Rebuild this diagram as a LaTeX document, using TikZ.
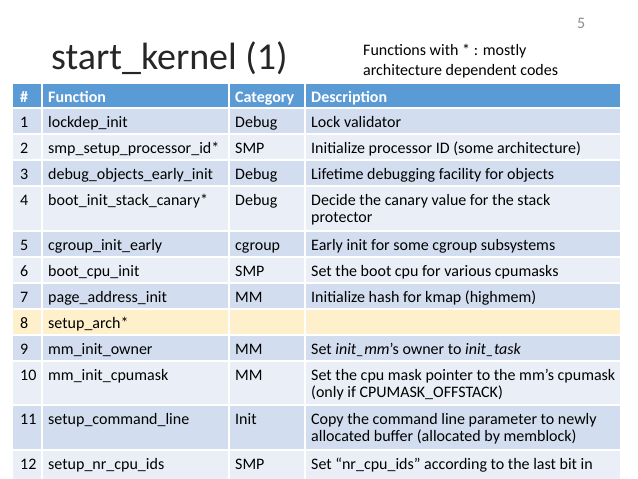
\documentclass[tikz,border=0pt]{standalone}
\usepackage{fontspec}
\setmainfont{Carlito}
\definecolor{headblue}{HTML}{5B9BD5}
\definecolor{banddark}{HTML}{D2DEEF}
\definecolor{bandlight}{HTML}{EAEFF7}
\definecolor{bandmark}{HTML}{FFF0CC}
\definecolor{pagegray}{HTML}{8C8C8C}
\begin{document}
\begin{tikzpicture}[x=1pt,y=-1pt,
  cell/.style={anchor=base west, inner sep=0, font=\fontsize{16}{18}\selectfont},
  headcell/.style={cell, text=white, font=\fontsize{16}{18}\selectfont\bfseries},
  sepline/.style={white, line width=1.6pt}]
\useasboundingbox (0,0) rectangle (638,479);

\node[anchor=base west, inner sep=0, text=pagegray, font=\fontsize{16}{18}\selectfont] (page) at (577,28) {5};
\node[anchor=base west, inner sep=0, text=black!85, font=\fontsize{38}{40}\selectfont] (title) at (51,69) {start\_kernel (1)};
\node[cell] (note1) at (363,56) {Functions with * : mostly};
\node[cell] (note2) at (363,75) {architecture dependent codes};

% bands
\fill[headblue] (13,84) rectangle (620,108);
\fill[banddark] (13,108) rectangle (620,134);
\fill[bandlight] (13,134) rectangle (620,160);
\fill[banddark] (13,160) rectangle (620,186);
\fill[bandlight] (13,186) rectangle (620,231);
\fill[banddark] (13,231) rectangle (620,257);
\fill[bandlight] (13,257) rectangle (620,283);
\fill[banddark] (13,283) rectangle (620,309);
\fill[bandmark] (13,309) rectangle (620,335);
\fill[banddark] (13,335) rectangle (620,361);
\fill[bandlight] (13,361) rectangle (620,405);
\fill[banddark] (13,405) rectangle (620,450);
\fill[bandlight] (13,450) rectangle (620,479);

% white rules
\foreach \x in {42,229,305}
  \draw[sepline] (\x,84) -- (\x,479);
\foreach \y in {108,134,160,186,231,257,283,309,335,361,405,450}
  \draw[sepline] (13,\y) -- (620,\y);

\node[headcell] (hnum) at (20,102) {\#};
\node[headcell] (hfn) at (48,102) {Function};
\node[headcell] (hcat) at (235,102) {Category};
\node[headcell] (hdesc) at (311,102) {Description};

\node[cell] (num1) at (20,127) {1};
\node[cell] (fn1) at (48,127) {lockdep\_init};
\node[cell] (cat1) at (235,127) {Debug};
\node[cell] (desc1) at (311,127) {Lock validator};

\node[cell] (num2) at (20,153) {2};
\node[cell] (fn2) at (48,153) {smp\_setup\_processor\_id*};
\node[cell] (cat2) at (235,153) {SMP};
\node[cell] (desc2) at (311,153) {Initialize processor ID (some architecture)};

\node[cell] (num3) at (20,179) {3};
\node[cell] (fn3) at (48,179) {debug\_objects\_early\_init};
\node[cell] (cat3) at (235,179) {Debug};
\node[cell] (desc3) at (311,179) {Lifetime debugging facility for objects};

\node[cell] (num4) at (20,205) {4};
\node[cell] (fn4) at (48,205) {boot\_init\_stack\_canary*};
\node[cell] (cat4) at (235,205) {Debug};
\node[cell] (desc4) at (311,205) {Decide the canary value for the stack};
\node[cell] (desc4b) at (311,222.5) {protector};

\node[cell] (num5) at (20,250) {5};
\node[cell] (fn5) at (48,250) {cgroup\_init\_early};
\node[cell] (cat5) at (235,250) {cgroup};
\node[cell] (desc5) at (311,250) {Early init for some cgroup subsystems};

\node[cell] (num6) at (20,276) {6};
\node[cell] (fn6) at (48,276) {boot\_cpu\_init};
\node[cell] (cat6) at (235,276) {SMP};
\node[cell] (desc6) at (311,276) {Set the boot cpu for various cpumasks};

\node[cell] (num7) at (20,302) {7};
\node[cell] (fn7) at (48,302) {page\_address\_init};
\node[cell] (cat7) at (235,302) {MM};
\node[cell] (desc7) at (311,302) {Initialize hash for kmap (highmem)};

\node[cell] (num8) at (20,328) {8};
\node[cell] (fn8) at (48,328) {setup\_arch*};

\node[cell] (num9) at (20,354) {9};
\node[cell] (fn9) at (48,354) {mm\_init\_owner};
\node[cell] (cat9) at (235,354) {MM};
\node[cell] (desc9) at (311,354) {Set \textit{init\_mm}’s owner to \textit{init\_task}};

\node[cell] (num10) at (20,380) {10};
\node[cell] (fn10) at (48,380) {mm\_init\_cpumask};
\node[cell] (cat10) at (235,380) {MM};
\node[cell] (desc10) at (311,380) {Set the cpu mask pointer to the mm’s cpumask};
\node[cell] (desc10b) at (311,397.5) {(only if CPUMASK\_OFFSTACK)};

\node[cell] (num11) at (20,424) {11};
\node[cell] (fn11) at (48,424) {setup\_command\_line};
\node[cell] (cat11) at (235,424) {Init};
\node[cell] (desc11) at (311,424) {Copy the command line parameter to newly};
\node[cell] (desc11b) at (311,441.5) {allocated buffer (allocated by memblock)};

\node[cell] (num12) at (20,469) {12};
\node[cell] (fn12) at (48,469) {setup\_nr\_cpu\_ids};
\node[cell] (cat12) at (235,469) {SMP};
\node[cell] (desc12) at (311,469) {Set “nr\_cpu\_ids” according to the last bit in};
\end{tikzpicture}
\end{document}
